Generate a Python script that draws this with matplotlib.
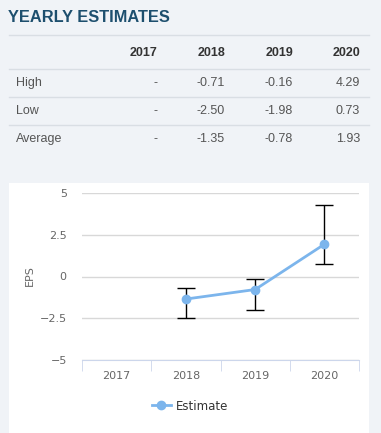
import matplotlib.pyplot as plt
from matplotlib.lines import Line2D
from matplotlib.patches import Rectangle

years = ["2017", "2018", "2019", "2020"]
high = [None, -0.71, -0.16, 4.29]
low = [None, -2.50, -1.98, 0.73]
average = [None, -1.35, -0.78, 1.93]

W, H = 381, 433
bg = "#f0f3f7"
title_color = "#1d4f6e"
text_color = "#555555"
rule_color = "#d9dee4"
blue = "#7cb5ec"
table_font = "Liberation Sans"


def fx(px):
    return px / W


def fy(py):
    return 1 - py / H


fig = plt.figure(figsize=(W / 100, H / 100), dpi=100, facecolor=bg)

# table section
fig.text(fx(8), fy(17), "YEARLY ESTIMATES", color=title_color, fontsize=11.8,
         fontweight="bold", va="center", ha="left", family=table_font)
for y in [35, 69, 97, 125]:
    fig.add_artist(Line2D([fx(9), fx(369)], [fy(y), fy(y)], color=rule_color, lw=1))

col_x = [157, 225, 293, 360]
for x, yr in zip(col_x, years):
    fig.text(fx(x), fy(53), yr, color="#333333", fontsize=9, fontweight="bold",
             ha="right", va="center", family=table_font)


def fmt(v):
    return "-" if v is None else f"{v:.2f}"


rows = [("High", high, 83), ("Low", low, 111), ("Average", average, 139)]
for name, vals, y in rows:
    fig.text(fx(16), fy(y), name, color=text_color, fontsize=9, ha="left", va="center",
             family=table_font)
    for x, v in zip(col_x, vals):
        fig.text(fx(x), fy(y), fmt(v), color=text_color, fontsize=9, ha="right",
                 va="center", family=table_font)

# white chart panel
fig.add_artist(Rectangle((fx(9), 0), fx(369) - fx(9), fy(183), transform=fig.transFigure,
                         facecolor="white", edgecolor="none", zorder=0))

ax = fig.add_axes([fx(82), fy(360), fx(359) - fx(82), (360 - 193) / H])
ax.set_facecolor("white")
xs = list(range(len(years)))
pts = [(i, a, h, l) for i, (a, h, l) in enumerate(zip(average, high, low)) if a is not None]
px = [p[0] for p in pts]
pa = [p[1] for p in pts]
err_lo = [p[1] - p[3] for p in pts]
err_hi = [p[2] - p[1] for p in pts]

ax.errorbar(px, pa, yerr=[err_lo, err_hi], fmt="none", ecolor="black", elinewidth=1,
            capsize=6.5, capthick=1, zorder=3)
ax.plot(px, pa, color=blue, lw=2, marker="o", markersize=6, zorder=4)

ax.set_xlim(-0.5, len(years) - 0.5)
ax.set_ylim(-5, 5)
ax.set_yticks([-5, -2.5, 0, 2.5, 5])
ax.set_yticklabels(["\u22125", "\u22122.5", "0", "2.5", "5"])
ax.set_xticks(xs)
ax.set_xticklabels(years)
ax.set_xticks([-0.5, 0.5, 1.5, 2.5, 3.5], minor=True)
ax.tick_params(axis="x", which="major", length=0, pad=8, labelsize=8, colors="#666666")
ax.tick_params(axis="x", which="minor", length=8, color="#ccd6eb", direction="out")
ax.tick_params(axis="y", length=0, pad=11, labelsize=8, colors="#666666")
ax.grid(axis="y", color="#d8d8d8", lw=1)
ax.set_axisbelow(True)
for s in ["top", "right", "left"]:
    ax.spines[s].set_visible(False)
ax.spines["bottom"].set_color("#ccd6eb")
ax.set_ylabel("EPS", fontsize=8, color="#666666", va="center")
ax.yaxis.set_label_coords(fx(30), fy(276), transform=fig.transFigure)

ax.legend([Line2D([0], [0], color=blue, lw=2, marker="o", markersize=6)], ["Estimate"],
          loc="center", bbox_to_anchor=(fx(190), fy(406)), bbox_transform=fig.transFigure,
          frameon=False, fontsize=8.5, handlelength=1.6, handletextpad=0.4,
          labelcolor="#333333")

fig.savefig("out.png", dpi=100, facecolor=bg)
